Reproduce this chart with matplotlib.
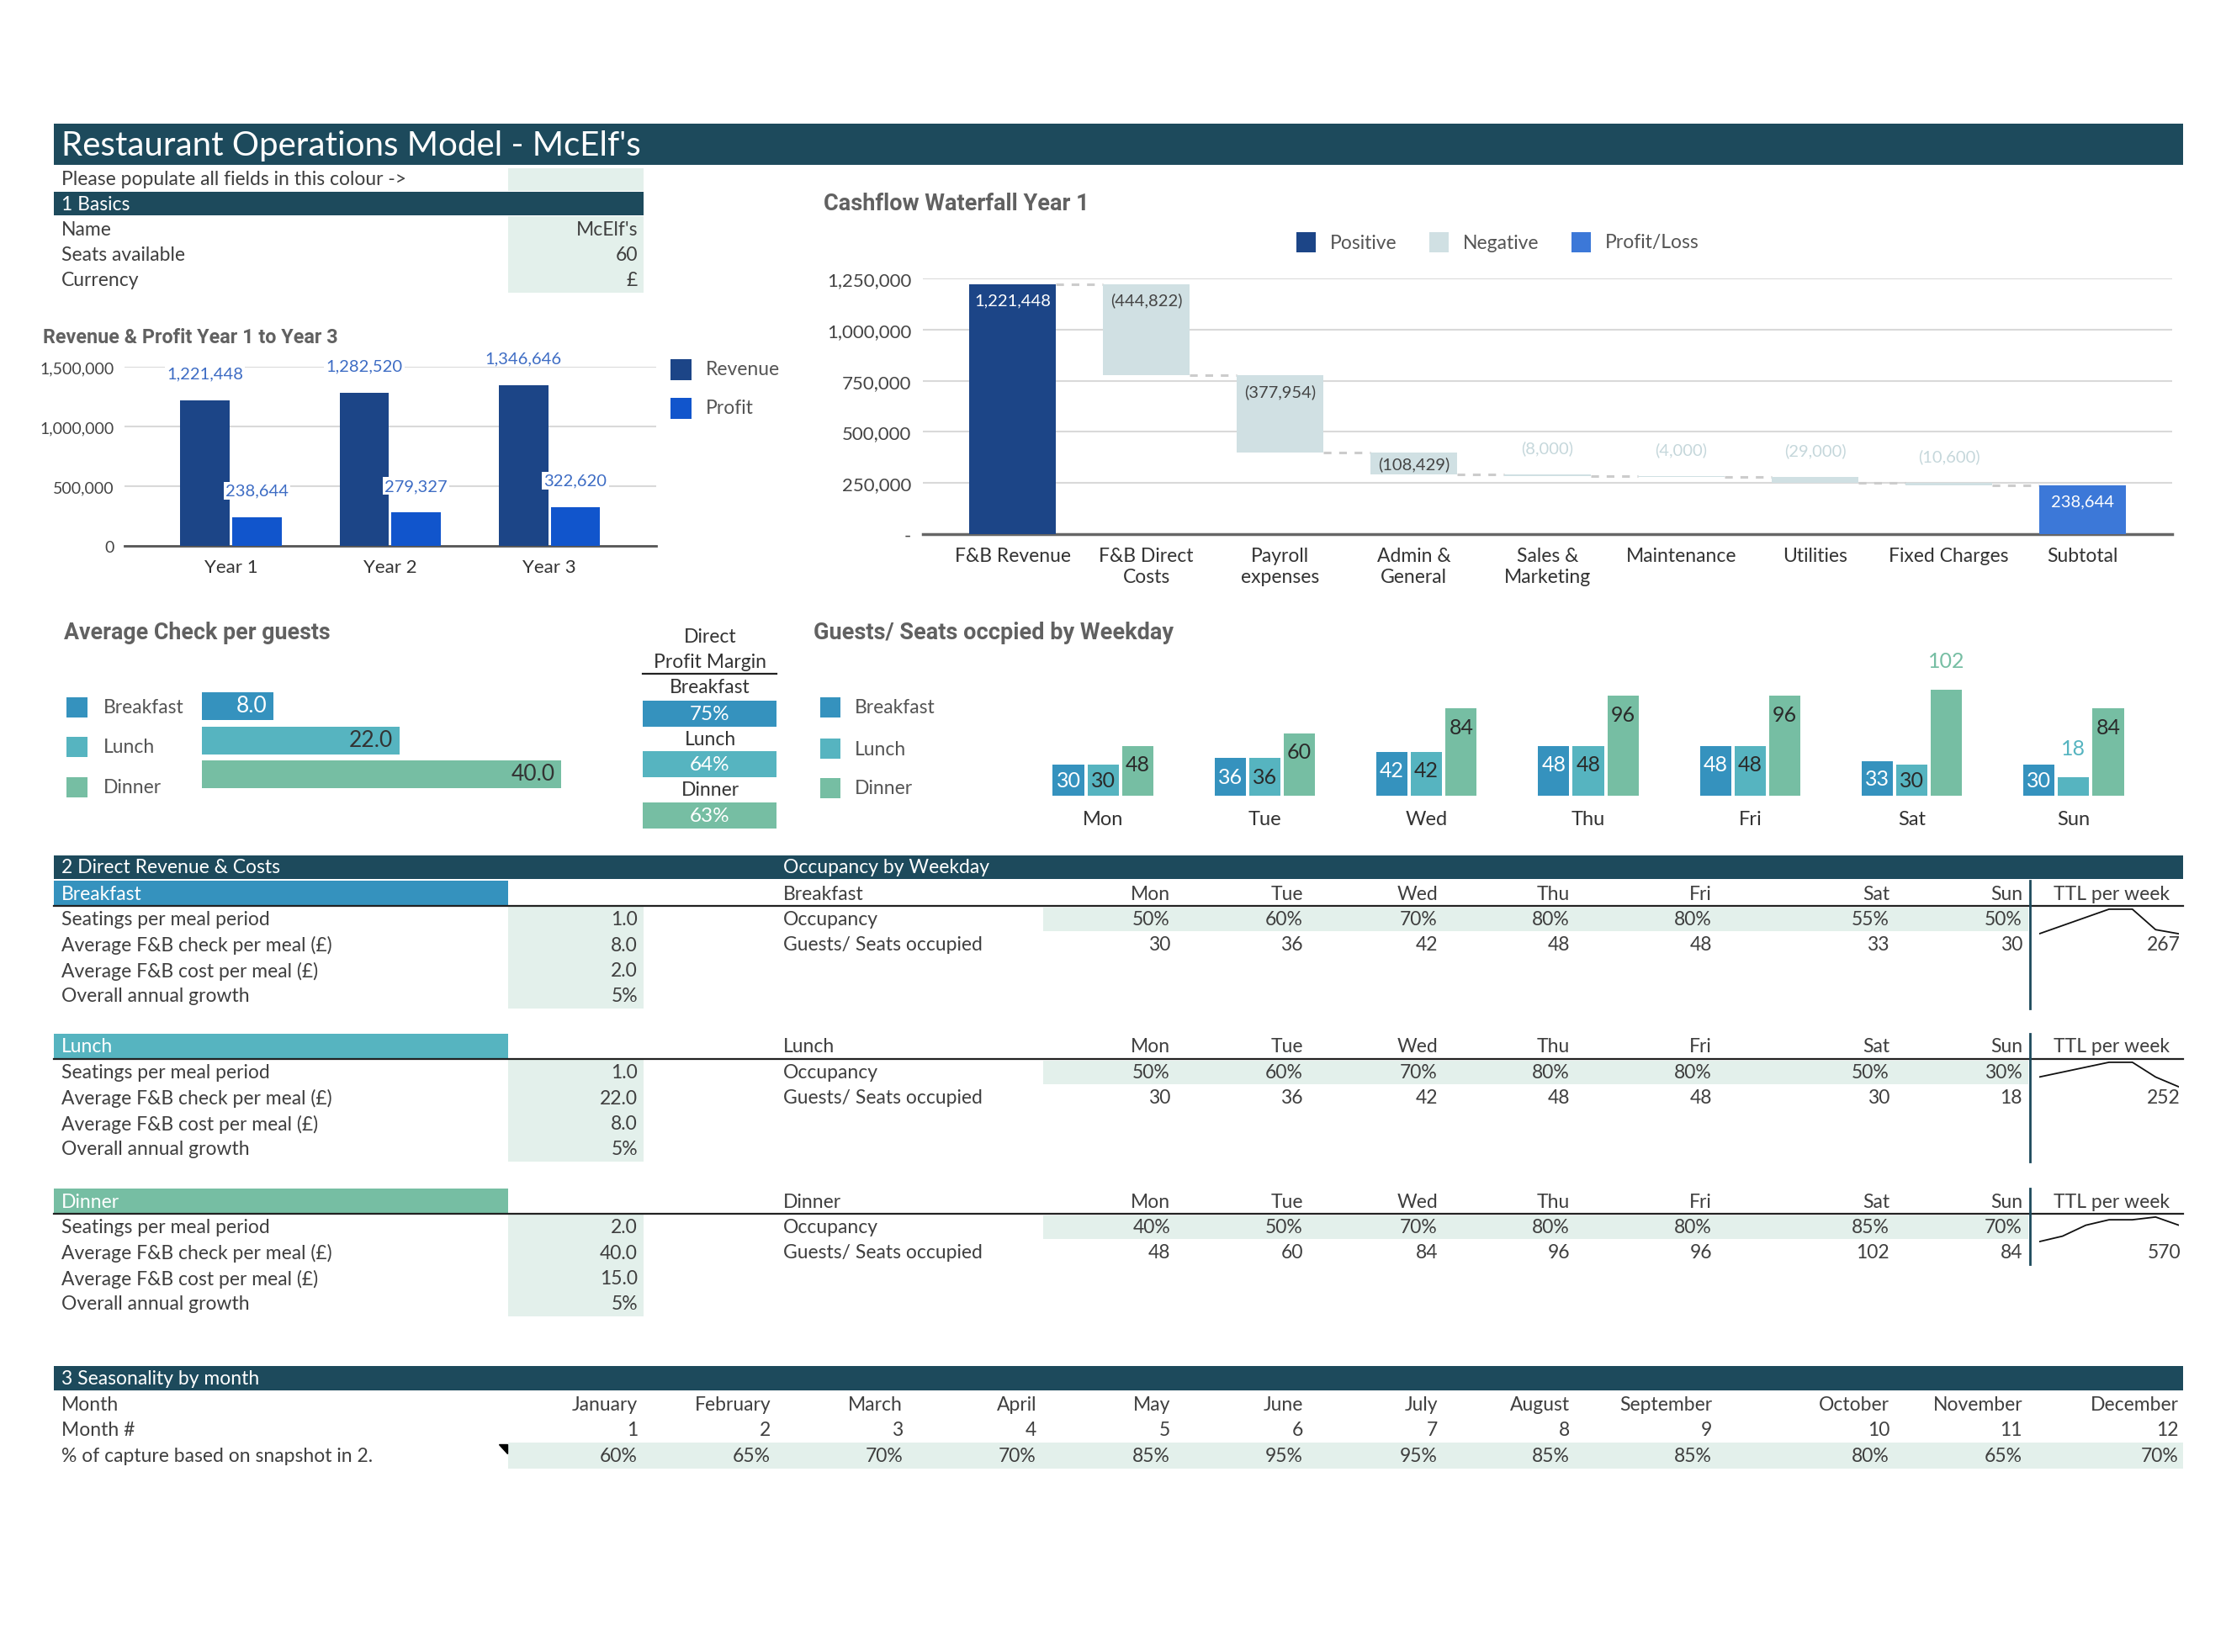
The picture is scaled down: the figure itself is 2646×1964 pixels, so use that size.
import matplotlib
matplotlib.use("Agg")
import matplotlib.pyplot as plt
import matplotlib.font_manager as fm
from matplotlib.patches import Rectangle, Polygon
from matplotlib.lines import Line2D
from matplotlib.ticker import FuncFormatter

# ---------------- data ----------------
basics_labels = ["Name", "Seats available", "Currency"]
basics_values = ["McElf's", "60", "£"]

years = ["Year 1", "Year 2", "Year 3"]
revenue = [1221448, 1282520, 1346646]
profit = [238644, 279327, 322620]

wf_categories = ["F&B Revenue", "F&B Direct\nCosts", "Payroll\nexpenses", "Admin &\nGeneral",
                 "Sales &\nMarketing", "Maintenance", "Utilities", "Fixed Charges", "Subtotal"]
wf_values = [1221448, -444822, -377954, -108429, -8000, -4000, -29000, -10600, 238644]

meals = ["Breakfast", "Lunch", "Dinner"]
avg_check = [8.0, 22.0, 40.0]
margin_pct = [75, 64, 63]

days = ["Mon", "Tue", "Wed", "Thu", "Fri", "Sat", "Sun"]
occupancy = {
    "Breakfast": [50, 60, 70, 80, 80, 55, 50],
    "Lunch": [50, 60, 70, 80, 80, 50, 30],
    "Dinner": [40, 50, 70, 80, 80, 85, 70],
}
guests = {
    "Breakfast": [30, 36, 42, 48, 48, 33, 30],
    "Lunch": [30, 36, 42, 48, 48, 30, 18],
    "Dinner": [48, 60, 84, 96, 96, 102, 84],
}

row_labels = ["Seatings per meal period", "Average F&B check per meal (£)",
              "Average F&B cost per meal (£)", "Overall annual growth"]
seatings = [1.0, 1.0, 2.0]
check_per_meal = [8.0, 22.0, 40.0]
cost_per_meal = [2.0, 8.0, 15.0]
annual_growth = [5, 5, 5]

months = ["January", "February", "March", "April", "May", "June", "July",
          "August", "September", "October", "November", "December"]
month_num = list(range(1, 13))
capture_pct = [60, 65, 70, 70, 85, 95, 95, 85, 85, 80, 65, 70]

# ---------------- style ----------------
names = {f.name for f in fm.fontManager.ttflist}
FONT = 'Liberation Sans Narrow' if 'Liberation Sans Narrow' in names else 'Lato'
plt.rcParams['font.family'] = [FONT, 'DejaVu Sans']
TFONT = ['Roboto', 'DejaVu Sans']

HDR = "#1d4a5c"
GREEN = "#e3f0eb"
TXT = "#3f3f3f"
GREY_T = "#616161"
REV_C = "#1c4587"
PROF_C = "#1155cc"
POS_C = "#1c4587"
NEG_C = "#d0e0e3"
PL_C = "#3c78d8"
MEAL_C = {"Breakfast": "#3592be", "Lunch": "#56b4c0", "Dinner": "#76bea3"}
FS = 16.5

W, H = 2646, 1965
fig = plt.figure(figsize=(W / 100, H / 100), dpi=100)
fig.patch.set_facecolor("white")


def fx(x):
    return x / W


def fy(y):
    return 1 - y / H


def T(x, y, s, size=FS, color=TXT, ha="left", va="center", **kw):
    return fig.text(fx(x), fy(y), s, fontsize=size, color=color, ha=ha, va=va, **kw)


def R(x0, y0, x1, y1, color, z=0):
    fig.add_artist(Rectangle((fx(x0), fy(y1)), (x1 - x0) / W, (y1 - y0) / H,
                             transform=fig.transFigure, facecolor=color,
                             edgecolor="none", zorder=z))


def L(x0, y0, x1, y1, color="#222222", lw=1.5, **kw):
    fig.add_artist(Line2D([fx(x0), fx(x1)], [fy(y0), fy(y1)],
                          transform=fig.transFigure, color=color, lw=lw, **kw))


def AX(x0, y0, x1, y1):
    ax = fig.add_axes([fx(x0), fy(y1), (x1 - x0) / W, (y1 - y0) / H])
    ax.set_facecolor("none")
    return ax


col_right = [758, 916, 1073, 1232, 1391, 1549, 1709, 1866, 2035, 2246, 2404, 2590]

# ---------------- title & basics ----------------
R(64, 148, 2595, 197, HDR)
T(73, 173, "Restaurant Operations Model - McElf's", size=29, color="white")
T(73, 214, "Please populate all fields in this colour ->")
R(604, 201, 765, 228, GREEN)
R(64, 229, 765, 257, HDR)
T(73, 243, "1 Basics", color="white")
R(604, 258, 765, 349, GREEN)
for i, (lab, val) in enumerate(zip(basics_labels, basics_values)):
    y = 273 + i * 30.5
    T(73, y, lab)
    T(758, y, val, ha="right")

# ---------------- revenue & profit chart ----------------
T(51, 402, "Revenue & Profit Year 1 to Year 3", size=16.8, color=GREY_T,
  fontweight="bold", family=TFONT)
ax1 = AX(148, 437, 780, 650)
xs = list(range(len(years)))
off, bw = 0.163, 0.31
ax1.bar([x - off for x in xs], revenue, width=bw, color=REV_C, zorder=3)
ax1.bar([x + off for x in xs], profit, width=bw, color=PROF_C, zorder=3)
for x, v in zip(xs, revenue):
    ax1.annotate(f"{v:,}", (x - off, v), xytext=(0, 23), textcoords="offset points",
                 ha="center", va="center", color="#3d6cc4", fontsize=14.5, zorder=5,
                 bbox=dict(boxstyle="square,pad=0.1", fc="white", ec="none"))
for x, v in zip(xs, profit):
    ax1.annotate(f"{v:,}", (x + off, v), xytext=(0, 23), textcoords="offset points",
                 ha="center", va="center", color="#3d6cc4", fontsize=14.5, zorder=5,
                 bbox=dict(boxstyle="square,pad=0.1", fc="white", ec="none"))
ax1.set_xlim(-0.668, 2.67)
ax1.set_ylim(0, 1500000)
ax1.set_yticks([0, 500000, 1000000, 1500000])
ax1.yaxis.set_major_formatter(FuncFormatter(lambda v, p: f"{int(v):,}"))
ax1.yaxis.grid(True, color="#d9d9d9", lw=1.5)
ax1.set_axisbelow(True)
ax1.set_xticks(xs)
ax1.set_xticklabels(years)
for s in ["top", "right", "left"]:
    ax1.spines[s].set_visible(False)
ax1.spines["bottom"].set_color("#555555")
ax1.spines["bottom"].set_linewidth(2)
ax1.tick_params(axis="y", length=0, pad=9, labelsize=14, labelcolor="#444444")
ax1.tick_params(axis="x", length=0, pad=11, labelsize=16, labelcolor="#333333")
R(797, 428, 822, 453, REV_C)
T(839, 440, "Revenue", color="#555555")
R(797, 474, 822, 499, PROF_C)
T(839, 486, "Profit", color="#555555")

# ---------------- waterfall ----------------
T(979, 243, "Cashflow Waterfall Year 1", size=19.5, color=GREY_T, fontweight="bold", family=TFONT)
ax2 = AX(1097, 332, 2582, 636)
n = len(wf_values)
bottoms, heights, colors, levels = [], [], [], []
running = 0
for i, v in enumerate(wf_values):
    if i == 0:
        bottoms.append(0); heights.append(v); colors.append(POS_C); running = v
    elif i == n - 1:
        bottoms.append(0); heights.append(v); colors.append(PL_C); running = v
    else:
        bottoms.append(running + v); heights.append(-v); colors.append(NEG_C); running += v
    levels.append(running)
wbw = 0.65
ax2.bar(range(n), heights, bottom=bottoms, width=wbw, color=colors, zorder=3)
for i in range(n - 1):
    ax2.plot([i + wbw / 2, i + 1 - wbw / 2], [levels[i], levels[i]], ls=(0, (3, 3)),
             color="#cccccc", lw=2.2, zorder=2)
d = 76400
for i, v in enumerate(wf_values):
    top = bottoms[i] + heights[i]
    mid = bottoms[i] + heights[i] / 2
    lab = f"{v:,}" if v > 0 else f"({-v:,})"
    if i == 0 or i == n - 1:
        ax2.text(i, top - d, lab, ha="center", va="center", color="white", fontsize=14.5, zorder=5)
    elif abs(v) >= 50000:
        ax2.text(i, max(top - d, mid), lab, ha="center", va="center", color="#444444",
                 fontsize=14.5, zorder=5)
    else:
        ax2.annotate(lab, (i, top), xytext=(0, 23), textcoords="offset points",
                     ha="center", va="center", color="#c5d7db", fontsize=14.5, zorder=5)
ax2.set_xlim(-0.67, 8.67)
ax2.set_ylim(0, 1250000)
ax2.set_yticks([0, 250000, 500000, 750000, 1000000, 1250000])
ax2.yaxis.set_major_formatter(FuncFormatter(lambda v, p: "-" if v == 0 else f"{int(v):,}"))
ax2.yaxis.grid(True, color="#d9d9d9", lw=1.5)
ax2.set_axisbelow(True)
ax2.set_xticks(range(n))
ax2.set_xticklabels(wf_categories)
for s in ["top", "right", "left"]:
    ax2.spines[s].set_visible(False)
ax2.spines["bottom"].set_color("#666666")
ax2.spines["bottom"].set_linewidth(2.5)
ax2.tick_params(axis="y", length=0, pad=10, labelsize=16, labelcolor="#444444")
ax2.tick_params(axis="x", length=0, pad=11, labelsize=16.5, labelcolor="#333333")
for xq, col, lab in [(1541, POS_C, "Positive"), (1699, NEG_C, "Negative"), (1868, PL_C, "Profit/Loss")]:
    R(xq, 277, xq + 23, 301, col)
    T(xq + 40, 289, lab, color="#555555")

# ---------------- average check ----------------
T(76, 753, "Average Check per guests", size=19.3, color=GREY_T, fontweight="bold", family=TFONT)
ax3 = AX(240, 810, 667, 950)
ypix = [840, 881, 921]
for i, m in enumerate(meals):
    R(79, [842, 889, 937][i] - 12, 104, [842, 889, 937][i] + 12, MEAL_C[m])
    T(123, [842, 889, 937][i], m, color="#555555")
ax3.barh(ypix, avg_check, height=33, color=[MEAL_C[m] for m in meals])
for i, v in enumerate(avg_check):
    ax3.text(v - 0.7, ypix[i], f"{v:.1f}", ha="right", va="center", fontsize=19,
             color="white" if i == 0 else "#333333")
ax3.set_xlim(0, 40)
ax3.set_ylim(950, 810)
ax3.axis("off")

# direct profit margin
T(844, 758, "Direct", ha="center", color="#333333")
T(844, 788, "Profit Margin", ha="center", color="#333333")
L(764, 802, 923, 802, "#222222", lw=1.6)
for i, m in enumerate(meals):
    T(844, [818, 879, 940][i], m, ha="center", color="#333333")
    b0 = [834, 894, 955][i]
    R(764, b0, 923, b0 + 31, MEAL_C[m])
    T(844, b0 + 15.5, f"{margin_pct[i]}%", ha="center", color="white", size=17.5)

# ---------------- guests by weekday ----------------
T(967, 753, "Guests/ Seats occpied by Weekday", size=19.5, color=GREY_T,
  fontweight="bold", family=TFONT)
for i, m in enumerate(meals):
    yy = [842, 891, 938][i]
    R(975, yy - 12, 999, yy + 12, MEAL_C[m])
    T(1016, yy, m, color="#555555")
ax4 = AX(1215, 811, 2561, 947)
goff, gbw = 0.214, 0.193
dd = 17.7
for k, m in enumerate(meals):
    xs4 = [j + (k - 1) * goff for j in range(len(days))]
    vals = guests[m]
    ax4.bar(xs4, vals, width=gbw, color=MEAL_C[m], zorder=3)
    for x, v in zip(xs4, vals):
        if v < 20 or v > 100:
            ax4.annotate(str(v), (x, v), xytext=(0, 25), textcoords="offset points",
                         ha="center", va="center", color=MEAL_C[m], fontsize=18)
        else:
            ax4.text(x, max(v - dd, v / 2), str(v), ha="center", va="center", fontsize=18,
                     color="white" if m == "Breakfast" else "#2a2a2a", zorder=5)
ax4.set_xlim(-0.5, 6.5)
ax4.set_ylim(0, 110)
ax4.set_xticks(range(len(days)))
ax4.set_xticklabels(days)
ax4.set_yticks([])
for s in ax4.spines.values():
    s.set_visible(False)
ax4.tick_params(axis="x", length=0, pad=12, labelsize=17, labelcolor="#333333")

# ---------------- section 2 ----------------
R(64, 1018, 2595, 1046, HDR)
T(73, 1032, "2 Direct Revenue & Costs", color="white")
T(931, 1032, "Occupancy by Weekday", color="white")
hys = [1048, 1230, 1414]
for k, m in enumerate(meals):
    hy = hys[k]
    R(64, hy, 604, hy + 29, MEAL_C[m])
    T(73, hy + 15, m, color="white")
    L(64, hy + 30, 2595, hy + 30, "#222222", lw=1.6)
    R(604, hy + 31, 765, hy + 152, GREEN)
    vals = [f"{seatings[k]:.1f}", f"{check_per_meal[k]:.1f}", f"{cost_per_meal[k]:.1f}",
            f"{annual_growth[k]}%"]
    for r, (lab, val) in enumerate(zip(row_labels, vals)):
        y = hy + 46 + r * 30.3
        T(73, y, lab)
        T(758, y, val, ha="right")
    # occupancy table
    T(931, hy + 15, m)
    for j, dname in enumerate(days):
        T(col_right[4 + j], hy + 15, dname, ha="right")
    T(2441, hy + 15, "TTL per week")
    R(1240, hy + 32, 2411, hy + 60, GREEN)
    T(931, hy + 46, "Occupancy")
    T(931, hy + 76, "Guests/ Seats occupied")
    for j in range(len(days)):
        T(col_right[4 + j], hy + 46, f"{occupancy[m][j]}%", ha="right")
        T(col_right[4 + j], hy + 76, str(guests[m][j]), ha="right")
    T(2592, hy + 76, str(sum(guests[m])), ha="right")
    L(2413, hy, 2413, hy + (90 if m == "Dinner" else 152), HDR, lw=2)
    axs = AX(2424, hy + 33, 2590, hy + 64)
    axs.plot(range(len(days)), occupancy[m], color="#111111", lw=1.3)
    axs.axis("off")
    mn, mx = min(occupancy[m]), max(occupancy[m])
    axs.set_ylim(mn - 0.03 * (mx - mn), mx + 0.03 * (mx - mn))
    axs.set_xlim(0, 6)

# ---------------- section 3 ----------------
R(64, 1625, 2595, 1654, HDR)
T(73, 1640, "3 Seasonality by month", color="white")
T(73, 1671, "Month")
T(73, 1701, "Month #")
R(604, 1716, 2595, 1747, GREEN)
T(73, 1731, "% of capture based on snapshot in 2.")
for j in range(12):
    T(col_right[j], 1671, months[j], ha="right")
    T(col_right[j], 1701, str(month_num[j]), ha="right")
    T(col_right[j], 1731, f"{capture_pct[j]}%", ha="right")
fig.add_artist(Polygon([(fx(593), fy(1718)), (fx(603), fy(1718)), (fx(603), fy(1729))],
                       closed=True, transform=fig.transFigure, color="black"))

fig.savefig("out.png", dpi=100, facecolor="white")
